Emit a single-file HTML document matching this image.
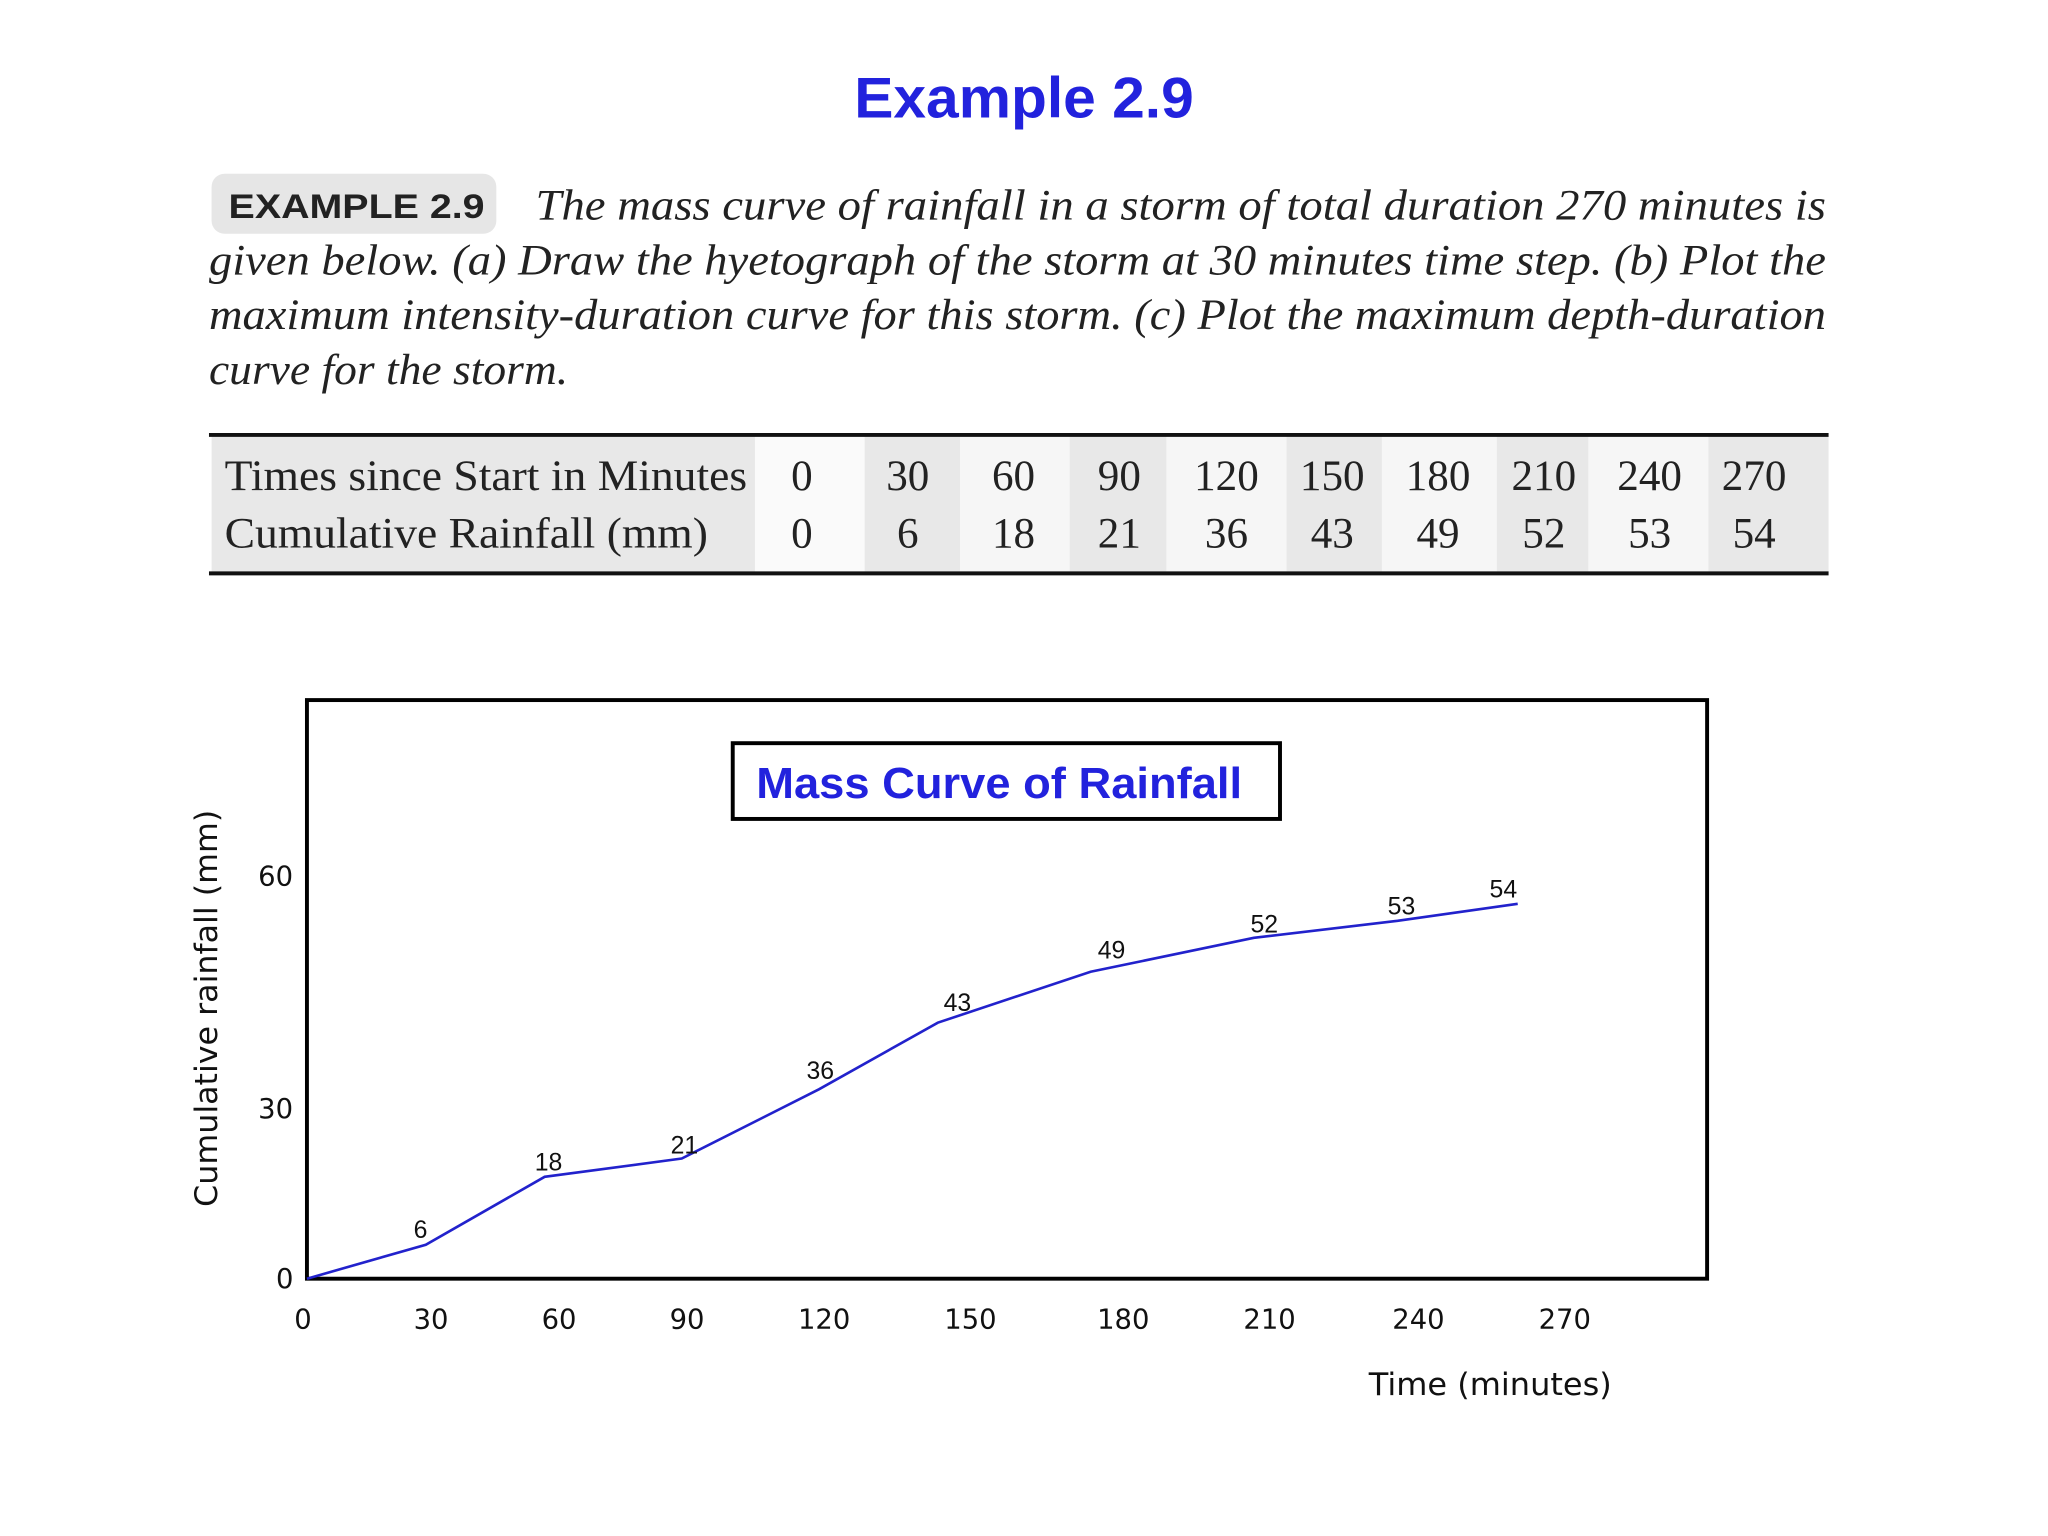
<!DOCTYPE html>
<html><head><meta charset="utf-8"><style>
html,body{margin:0;padding:0;background:#fff;}
svg{display:block;}
</style></head><body>
<svg width="2048" height="1536" viewBox="0 0 1568 1176" xmlns="http://www.w3.org/2000/svg">
<rect width="1568" height="1176" fill="#fff"/>
<text x="784" y="90" text-anchor="middle" font-family="Liberation Sans, sans-serif" font-weight="bold" font-size="44" fill="#2222dd" textLength="260" lengthAdjust="spacingAndGlyphs">Example 2.9</text>
<g font-family="Liberation Serif, serif" font-style="italic" font-size="33" fill="#222">
<rect x="162" y="133" width="218" height="46" rx="10" fill="#e6e6e6"/>
<text x="175" y="167" font-style="normal" font-family="Liberation Sans, sans-serif" font-weight="bold" font-size="26" textLength="196" lengthAdjust="spacingAndGlyphs">EXAMPLE 2.9</text>
<text x="410" y="168" textLength="988" lengthAdjust="spacingAndGlyphs">The mass curve of rainfall in a storm of total duration 270 minutes is</text>
<text x="160" y="210" textLength="1238" lengthAdjust="spacingAndGlyphs">given below. (a) Draw the hyetograph of the storm at 30 minutes time step. (b) Plot the</text>
<text x="160" y="252" textLength="1238" lengthAdjust="spacingAndGlyphs">maximum intensity-duration curve for this storm. (c) Plot the maximum depth-duration</text>
<text x="160" y="294" textLength="275" lengthAdjust="spacingAndGlyphs">curve for the storm.</text>
</g>
<rect x="162" y="334" width="1238" height="104" fill="#e8e8e8"/>
<rect x="578" y="334" width="84" height="104" fill="#fafafa"/>
<rect x="735" y="334" width="84" height="104" fill="#f6f6f6"/>
<rect x="893" y="334" width="92" height="104" fill="#f6f6f6"/>
<rect x="1058" y="334" width="88" height="104" fill="#f6f6f6"/>
<rect x="1216" y="334" width="92" height="104" fill="#f6f6f6"/>
<line x1="160" y1="333" x2="1400" y2="333" stroke="#111" stroke-width="3"/>
<line x1="160" y1="439" x2="1400" y2="439" stroke="#111" stroke-width="3"/>
<g font-family="Liberation Serif, serif" font-size="33" fill="#222" text-anchor="middle">
<text x="372" y="375" textLength="400" lengthAdjust="spacingAndGlyphs">Times since Start in Minutes</text>
<text x="357" y="419" textLength="370" lengthAdjust="spacingAndGlyphs">Cumulative Rainfall (mm)</text>
<text x="614" y="375">0</text><text x="695" y="375">30</text><text x="776" y="375">60</text><text x="857" y="375">90</text><text x="939" y="375">120</text><text x="1020" y="375">150</text><text x="1101" y="375">180</text><text x="1182" y="375">210</text><text x="1263" y="375">240</text><text x="1343" y="375">270</text>
<text x="614" y="419">0</text><text x="695" y="419">6</text><text x="776" y="419">18</text><text x="857" y="419">21</text><text x="939" y="419">36</text><text x="1020" y="419">43</text><text x="1101" y="419">49</text><text x="1182" y="419">52</text><text x="1263" y="419">53</text><text x="1343" y="419">54</text>
</g>
<rect x="235" y="536" width="1072" height="443" fill="#fff" stroke="#000" stroke-width="3"/>
<rect x="561" y="569" width="419" height="58" fill="#fff" stroke="#000" stroke-width="3"/>
<text x="579" y="611" font-family="Liberation Sans, sans-serif" font-weight="bold" font-size="33" fill="#2222dd" textLength="372" lengthAdjust="spacingAndGlyphs">Mass Curve of Rainfall</text>
<polyline points="235,979 326,953 417,901 522,887 627,834 718,783 835,744 960,718 1070,705 1162,692" fill="none" stroke="#2222cc" stroke-width="2"/>
<g font-family="Liberation Sans, sans-serif" font-size="19" fill="#111" text-anchor="middle">
<text x="322" y="948">6</text><text x="420" y="896">18</text><text x="524" y="883">21</text><text x="628" y="826">36</text><text x="733" y="774">43</text><text x="851" y="734">49</text><text x="968" y="714">52</text><text x="1073" y="700">53</text><text x="1151" y="687">54</text>
</g>
<g font-family="DejaVu Sans, sans-serif" font-size="21" fill="#111" text-anchor="middle">
<text x="232" y="1017">0</text><text x="330" y="1017">30</text><text x="428" y="1017">60</text><text x="526" y="1017">90</text><text x="631" y="1017">120</text><text x="743" y="1017">150</text><text x="860" y="1017">180</text><text x="972" y="1017">210</text><text x="1086" y="1017">240</text><text x="1198" y="1017">270</text>
<text x="218" y="986">0</text><text x="211" y="856">30</text><text x="211" y="678">60</text>
</g>
<text x="1141" y="1068" text-anchor="middle" font-family="DejaVu Sans, sans-serif" font-size="24" fill="#111" textLength="186" lengthAdjust="spacingAndGlyphs">Time (minutes)</text>
<text transform="translate(166,772) rotate(-90)" text-anchor="middle" font-family="DejaVu Sans, sans-serif" font-size="24" fill="#111" textLength="304" lengthAdjust="spacingAndGlyphs">Cumulative rainfall (mm)</text>
</svg>
</body></html>
